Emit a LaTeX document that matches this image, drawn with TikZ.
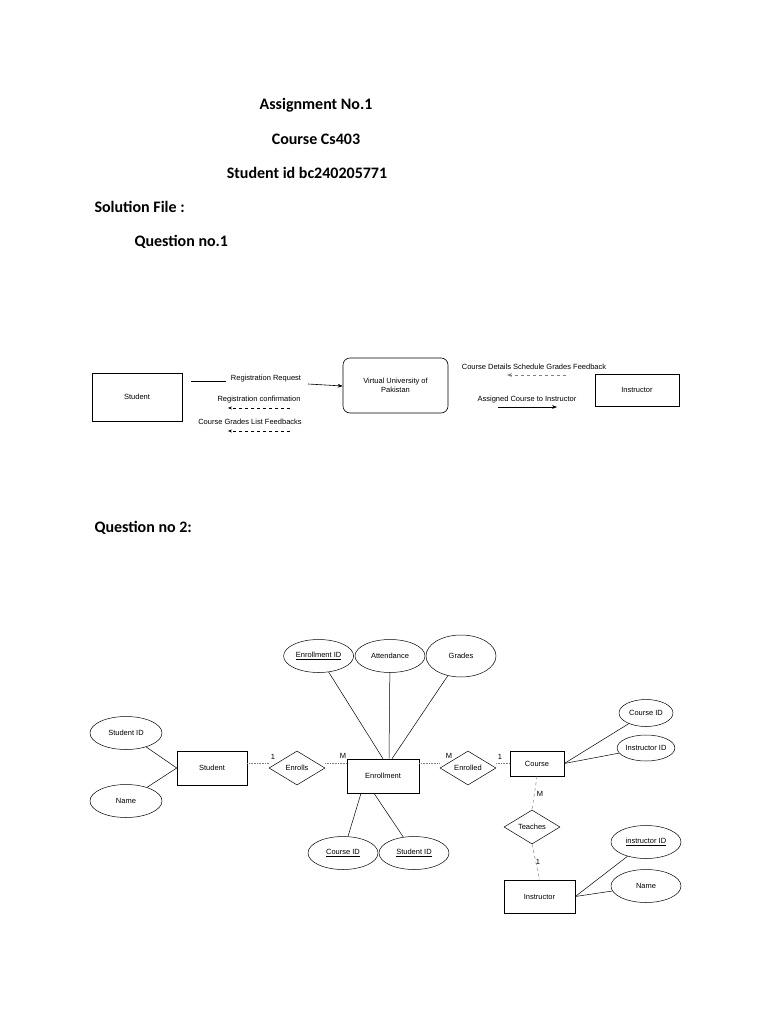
\documentclass[tikz,border=0pt]{standalone}
\usepackage{fontspec}
\setmainfont{Carlito}
\newfontfamily\dfont{Liberation Sans}
\usetikzlibrary{shapes.geometric,arrows.meta}
\begin{document}
\begin{tikzpicture}[x=1pt,y=-1pt,
  head/.style={font=\fontsize{16}{18}\selectfont\bfseries},
  lbl/.style={font=\dfont\fontsize{7.5}{9}\selectfont,inner sep=1pt},
  ent/.style={draw,line width=0.6pt,font=\dfont\fontsize{7.5}{9}\selectfont,minimum width=72pt,minimum height=34pt},
  att/.style={draw,ellipse,line width=0.5pt,font=\dfont\fontsize{7.5}{9}\selectfont,minimum width=70pt,minimum height=33pt,inner sep=0pt},
  rel/.style={draw,diamond,aspect=1.65,line width=0.5pt,font=\dfont\fontsize{7.5}{9}\selectfont,minimum width=56pt,minimum height=34pt,inner sep=0pt},
  dotl/.style={densely dotted,gray,line width=0.6pt},
  dsh/.style={dashed,line width=0.5pt},
  arr/.style={-{Stealth[length=5pt]},line width=0.6pt}]
\useasboundingbox (0,0) rectangle (768,1024);
\node[head] (t1) at (316,105) {Assignment No.1};
\node[head] (t2) at (316,139) {Course Cs403};
\node[head] (t3) at (307,173) {Student id bc240205771};
\node[head,anchor=west] (t4) at (91,207) {Solution File :};
\node[head,anchor=west] (t5) at (131,242) {Question no.1};
\node[head,anchor=west] (t6) at (91,528) {Question no 2:};
% Question 1
\node[draw,line width=0.5pt,minimum width=90pt,minimum height=48pt,lbl] (st) at (137,397) {Student};
\node[draw,rounded corners=7pt,line width=0.6pt,minimum width=105pt,minimum height=55pt,lbl,align=center] (vu) at (395.5,385.5) {Virtual University of\\Pakistan};
\node[draw,line width=0.5pt,minimum width=84pt,minimum height=32pt,lbl] (in) at (637,390) {Instructor};
\node[lbl] (rr) at (266,379) {Registration Request};
\node[lbl] (rc) at (259,400) {Registration confirmation};
\node[lbl] (cg) at (250,422) {Course Grades List Feedbacks};
\node[lbl] (cd) at (534,367) {Course Details Schedule Grades Feedback};
\node[lbl] (ac) at (527,400) {Assigned Course to Instructor};
\coordinate (a1) at (191,381); \coordinate (a2) at (226,381);
\draw[line width=0.6pt] (a1) -- (a2);
\coordinate (b1) at (308,384);
\draw[arr] (b1) -- (vu.west |- 0,386);
\coordinate (c1) at (290,408); \coordinate (c2) at (228,408);
\draw[dsh,-{Stealth[length=4pt]}] (c1) -- (c2);
\coordinate (d1) at (290,431); \coordinate (d2) at (228,431);
\draw[dsh,-{Stealth[length=4pt]}] (d1) -- (d2);
\coordinate (e1) at (566,375); \coordinate (e2) at (507,375);
\draw[dsh,gray,-{Stealth[length=5pt]}] (e1) -- (e2);
\coordinate (f1) at (498,407); \coordinate (f2) at (557,407);
\draw[arr] (f1) -- (f2);
% Question 2
\node[ent,minimum width=70pt] (S) at (212,768) {Student};
\node[ent] (E) at (383,776) {Enrollment};
\node[ent,minimum width=54pt,minimum height=25pt] (C) at (537,763.5) {Course};
\node[ent,minimum width=71pt,minimum height=33pt] (I) at (539.5,896.5) {Instructor};
\node[rel] (R1) at (297,768) {Enrolls};
\node[rel] (R2) at (468,768) {Enrolled};
\node[rel] (R3) at (532,827) {Teaches};
\node[att] (A1) at (318.6,656) {\underline{Enrollment ID}};
\node[att] (A2) at (390,656) {Attendance};
\node[att,minimum height=42pt] (A3) at (461,656) {Grades};
\node[att,minimum width=72pt] (A4) at (126,733) {Student ID};
\node[att,minimum width=72pt] (A5) at (126,801) {Name};
\node[att,minimum width=54pt,minimum height=27pt] (A6) at (646,713) {Course ID};
\node[att,minimum width=54pt,minimum height=26pt] (A7) at (646,748) {Instructor ID};
\node[att] (A8) at (646,842) {\underline{instructor ID}};
\node[att] (A9) at (646,886) {Name};
\node[att] (A10) at (343,853) {\underline{Course ID}};
\node[att] (A11) at (414,853) {\underline{Student ID}};
\draw[line width=0.5pt] (A1) -- (E.north);
\draw[line width=0.5pt] (A2) -- ([xshift=6pt]E.north);
\draw[line width=0.5pt] (A3) -- ([xshift=9pt]E.north);
\draw[line width=0.5pt] (A10) -- ([xshift=-22pt]E.south);
\draw[line width=0.5pt] (A11) -- ([xshift=-9pt]E.south);
\draw[line width=0.5pt] (A4) -- (S.west);
\draw[line width=0.5pt] (A5) -- (S.west);
\draw[line width=0.5pt] (A6) -- (C.east);
\draw[line width=0.5pt] (A7) -- (C.east);
\draw[line width=0.5pt] (A8) -- (I.east);
\draw[line width=0.5pt] (A9) -- (I.east);
\draw[dotl] (S.east |- 0,763) -- (R1.west |- 0,763);
\draw[dotl] (R1.east |- 0,763) -- (E.west |- 0,763);
\draw[dotl] (E.east |- 0,763) -- (R2.west |- 0,763);
\draw[dotl] (R2.east |- 0,763) -- (C.west |- 0,763);
\draw[dsh,gray] (C.south) -- (R3.north);
\draw[dsh,gray] (R3.south) -- (I.north);
\node[lbl] (m1) at (273,757) {1};
\node[lbl] (m2) at (343,756) {M};
\node[lbl] (m3) at (449,756) {M};
\node[lbl] (m4) at (500,757) {1};
\node[lbl] (m5) at (540,794) {M};
\node[lbl] (m6) at (538,862) {1};
\end{tikzpicture}
\end{document}
